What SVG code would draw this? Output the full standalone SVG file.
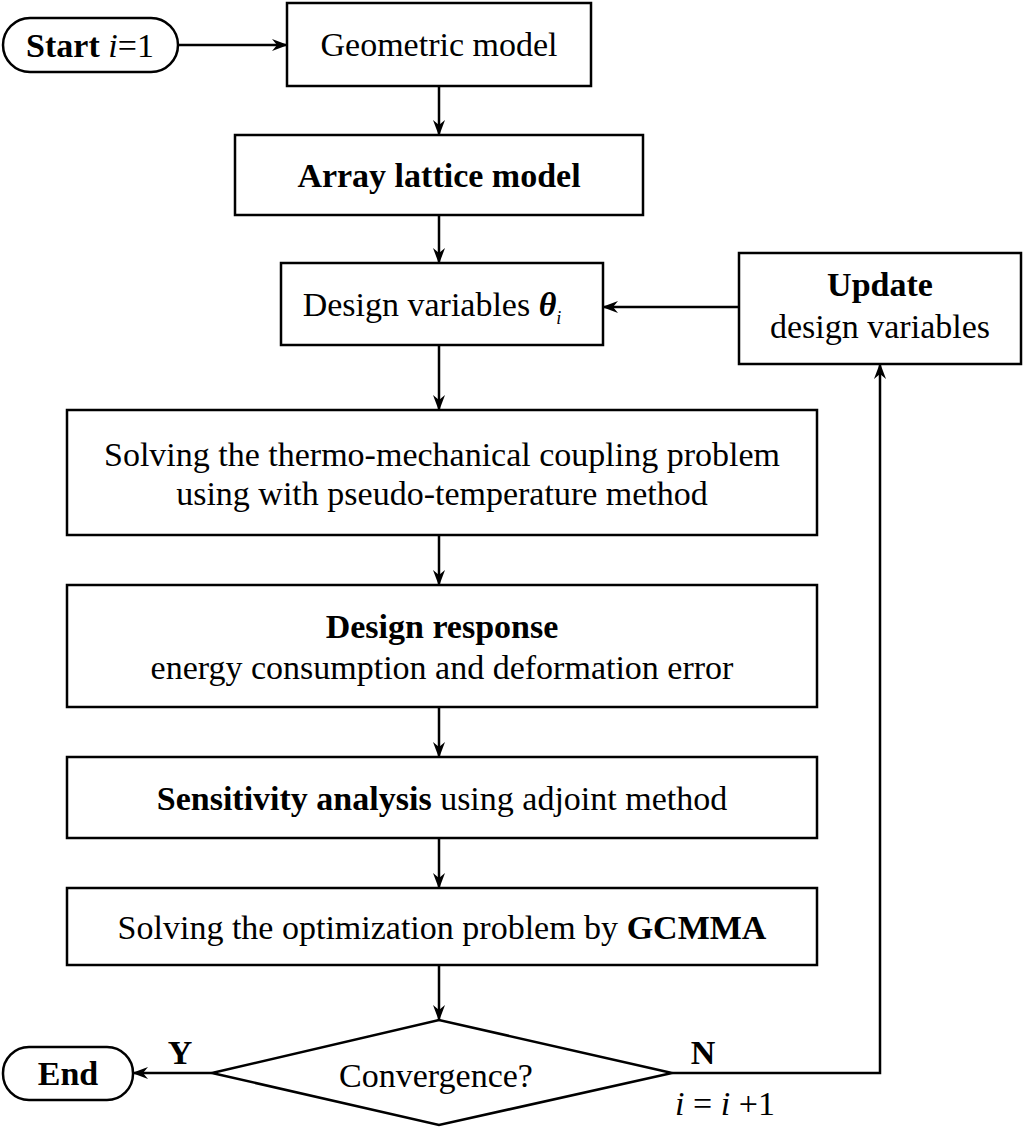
<svg xmlns="http://www.w3.org/2000/svg" width="1025" height="1127" viewBox="0 0 1025 1127">
<style>
.b{fill:#fff;stroke:#000;stroke-width:2.5}
text{font-family:"Liberation Serif","Times New Roman",serif;font-size:34px;text-anchor:middle;fill:#000}
.bd{font-weight:bold}
.l{fill:none;stroke:#000;stroke-width:2.5}
</style>
<defs><marker id="a" markerWidth="16" markerHeight="12" refX="15" refY="6" orient="auto" markerUnits="userSpaceOnUse"><path d="M0,0 L16,6 L0,12 L5,6 Z" fill="#000"/></marker></defs>
<rect width="1025" height="1127" fill="#fff"/>
<g id="start"><rect class="b" x="3" y="18" width="175" height="54" rx="27"/><text x="90" y="57"><tspan class="bd">Start </tspan><tspan font-style="italic">i</tspan>=1</text></g>
<g id="geo"><rect class="b" x="287" y="3" width="304" height="83"/><text x="439" y="56">Geometric model</text></g>
<g id="array"><rect class="b" x="235" y="135" width="408" height="80"/><text x="439" y="187" class="bd">Array lattice model</text></g>
<g id="dv"><rect class="b" x="281" y="263" width="322" height="82"/><text x="432" y="316">Design variables  <tspan font-style="italic" font-weight="bold">θ</tspan><tspan font-style="italic" font-size="18" dy="8">i</tspan></text></g>
<g id="update"><rect class="b" x="739" y="253" width="282" height="111"/><text x="880" y="296" class="bd">Update</text><text x="880" y="338">design variables</text></g>
<g id="solve"><rect class="b" x="67" y="410" width="750" height="125"/><text x="442" y="466">Solving the thermo-mechanical coupling problem</text><text x="442" y="505">using with pseudo-temperature method</text></g>
<g id="resp"><rect class="b" x="67" y="585" width="750" height="122"/><text x="442" y="638" class="bd">Design response</text><text x="442" y="679">energy consumption and deformation  error</text></g>
<g id="sens"><rect class="b" x="67" y="757" width="750" height="81"/><text x="442" y="810"><tspan class="bd">Sensitivity analysis</tspan> using adjoint method</text></g>
<g id="gcmma"><rect class="b" x="67" y="888" width="750" height="77"/><text x="442" y="939">Solving the optimization problem by <tspan class="bd">GCMMA</tspan></text></g>
<g id="conv"><path class="b" d="M212,1073 L439,1020 L672,1073 L439,1125 Z"/><text x="436" y="1087">Convergence?</text></g>
<g id="end"><rect class="b" x="3" y="1047" width="130" height="53" rx="26"/><text x="68" y="1085" class="bd">End</text></g>
<g id="connectors">
<path class="l" d="M178,45 H287" marker-end="url(#a)"/>
<path class="l" d="M439,86 V135" marker-end="url(#a)"/>
<path class="l" d="M439,215 V263" marker-end="url(#a)"/>
<path class="l" d="M739,307 H603" marker-end="url(#a)"/>
<path class="l" d="M439,345 V410" marker-end="url(#a)"/>
<path class="l" d="M439,535 V585" marker-end="url(#a)"/>
<path class="l" d="M439,707 V757" marker-end="url(#a)"/>
<path class="l" d="M439,838 V888" marker-end="url(#a)"/>
<path class="l" d="M439,965 V1020" marker-end="url(#a)"/>
<path class="l" d="M212,1073 H133" marker-end="url(#a)"/>
<path class="l" d="M672,1073 H880 V364" marker-end="url(#a)"/>
<text x="180" y="1064" class="bd" font-size="30">Y</text>
<text x="703" y="1064" class="bd" font-size="30">N</text>
<text x="725" y="1115" font-size="30"><tspan font-style="italic">i</tspan> = <tspan font-style="italic">i</tspan> +1</text>
</g>
</svg>
